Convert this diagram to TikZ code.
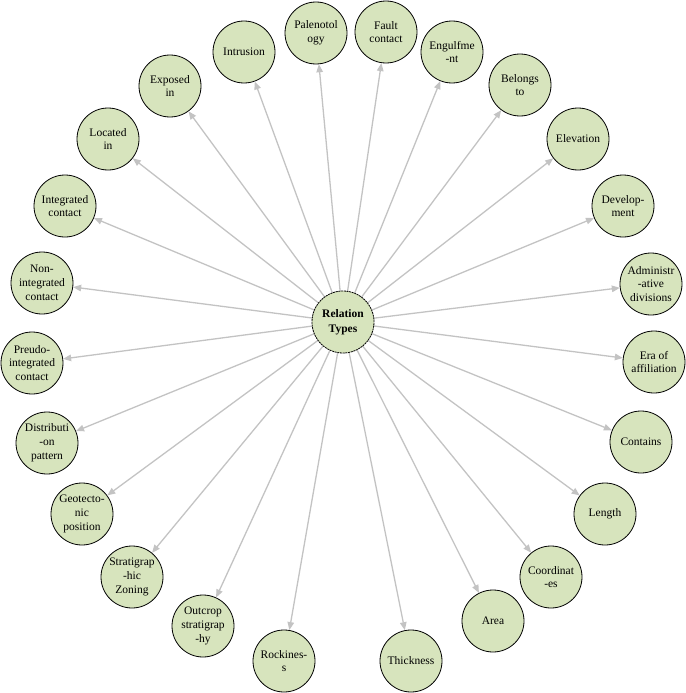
\documentclass[tikz,border=0pt]{standalone}
\usepackage{fontspec}
\setmainfont{Liberation Serif}
\usetikzlibrary{arrows.meta}

\definecolor{leafgreen}{HTML}{D7E4BD}
\definecolor{linkgray}{HTML}{C3C3C3}

\begin{document}
\begin{tikzpicture}[x=1pt, y=-1pt,
    rel/.style={circle, draw=black, line width=0.8pt, fill=leafgreen, minimum size=62pt, inner sep=1pt, align=center, font=\fontsize{11.5}{13.8}\selectfont},
    hub/.style={rel, dash pattern=on 2pt off 0.7pt, font=\fontsize{11.5}{14.5}\selectfont\bfseries},
    link/.style={linkgray, line width=1.3pt, -{Triangle[length=8pt, width=6.5pt]}}]
    \useasboundingbox (0, 0) rectangle (685, 693);
    
    % outer ring
    \node[rel] (paleo) at (316, 33) {Palenotol\\ogy};
    \node[rel] (fault) at (386, 32) {Fault\\contact};
    \node[rel] (engulf) at (452, 52) {Engulfme\\-nt};
    \node[rel] (belongs) at (520, 85) {Belongs\\to};
    \node[rel] (elev) at (578, 139) {Elevation};
    \node[rel] (devel) at (623, 206) {Develop-\\ment};
    \node[rel] (admin) at (651, 284) {Administr\\-ative\\divisions};
    \node[rel] (era) at (654, 362) {Era of\\affiliation};
    \node[rel] (contains) at (641, 442) {Contains};
    \node[rel] (length) at (605, 514) {Length};
    \node[rel] (coord) at (551, 577) {Coordinat\\-es};
    \node[rel] (area) at (493, 621) {Area};
    \node[rel] (thick) at (411, 661) {Thickness};
    \node[rel] (rock) at (284, 661) {Rockines-\\s};
    \node[rel] (outcrop) at (203, 626) {Outcrop\\stratigrap\\-hy};
    \node[rel] (zoning) at (132, 577) {Stratigrap\\-hic\\Zoning};
    \node[rel] (geotec) at (82, 514) {Geotecto-\\nic\\position};
    \node[rel] (distrib) at (47, 443) {Distributi\\-on\\pattern};
    \node[rel] (pseudo) at (32, 363) {Preudo-\\integrated\\contact};
    \node[rel] (nonint) at (42, 283) {Non-\\integrated\\contact};
    \node[rel] (integ) at (65, 206) {Integrated\\contact};
    \node[rel] (located) at (108, 139) {Located\\in};
    \node[rel] (exposed) at (170, 86) {Exposed\\in};
    \node[rel] (intru) at (244, 52) {Intrusion};
    
    % links from the hub
    \draw[link] (343, 322) -- (paleo);
    \draw[link] (343, 322) -- (fault);
    \draw[link] (343, 322) -- (engulf);
    \draw[link] (343, 322) -- (belongs);
    \draw[link] (343, 322) -- (elev);
    \draw[link] (343, 322) -- (devel);
    \draw[link] (343, 322) -- (admin);
    \draw[link] (343, 322) -- (era);
    \draw[link] (343, 322) -- (contains);
    \draw[link] (343, 322) -- (length);
    \draw[link] (343, 322) -- (coord);
    \draw[link] (343, 322) -- (area);
    \draw[link] (343, 322) -- (thick);
    \draw[link] (343, 322) -- (rock);
    \draw[link] (343, 322) -- (outcrop);
    \draw[link] (343, 322) -- (zoning);
    \draw[link] (343, 322) -- (geotec);
    \draw[link] (343, 322) -- (distrib);
    \draw[link] (343, 322) -- (pseudo);
    \draw[link] (343, 322) -- (nonint);
    \draw[link] (343, 322) -- (integ);
    \draw[link] (343, 322) -- (located);
    \draw[link] (343, 322) -- (exposed);
    \draw[link] (343, 322) -- (intru);
    
    \node[hub] (types) at (343, 322) {Relation\\Types};
    
\end{tikzpicture}
\end{document}
